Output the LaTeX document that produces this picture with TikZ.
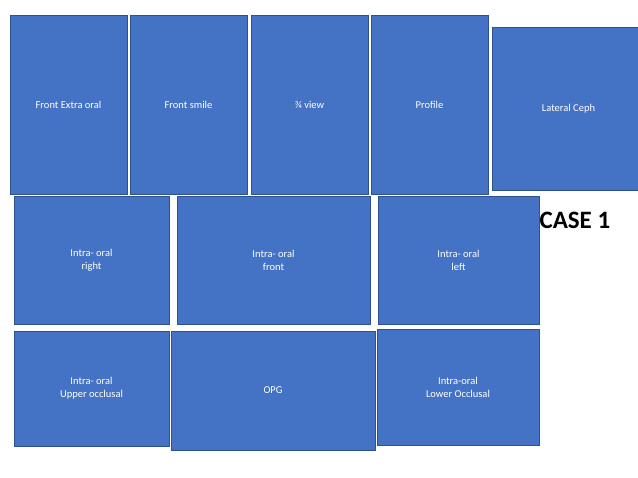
\documentclass[tikz,border=0pt]{standalone}
\usepackage{fontspec}
\setmainfont{Carlito}
\definecolor{bx}{HTML}{4472C4}
\definecolor{bd}{HTML}{2F528F}
\begin{document}
\begin{tikzpicture}[x=1pt,y=-1pt,
  ph/.style={draw=bd,fill=bx,line width=0.6pt,text=white,font=\fontsize{10.5}{13}\selectfont,align=center}]
\path[use as bounding box] (0,0) rectangle (638,478);
\clip (0,0) rectangle (638,478);
\fill[white] (0,0) rectangle (638,478);
\node[anchor=west,font=\bfseries\fontsize{25}{30}\selectfont] (case) at (536,220) {CASE 1};
\newcommand\bx[6]{\path[ph] (#2,#3) rectangle (#4,#5); \node[ph,draw=none,fill=none] (#1) at ({(#2+#4)/2},{(#3+#5)/2}) {#6};}
\bx{a}{10}{15}{127}{194}{Front Extra oral}
\bx{b}{130}{15}{247}{194}{Front smile}
\bx{c}{251}{15}{368}{194}{¾ view}
\bx{d}{371}{15}{488}{194}{Profile}
\bx{e}{492}{27}{645}{190}{Lateral Ceph}
\bx{f}{14}{196}{169}{324}{Intra- oral\\right}
\bx{g}{177}{196}{370}{324}{Intra- oral\\front}
\bx{h}{378}{196}{539}{324}{Intra- oral\\left}
\bx{i}{14}{331}{169}{446}{Intra- oral\\Upper occlusal}
\bx{j}{171}{331}{375}{450}{OPG}
\bx{k}{377}{329}{539}{445}{Intra-oral\\Lower Occlusal}
\end{tikzpicture}
\end{document}
